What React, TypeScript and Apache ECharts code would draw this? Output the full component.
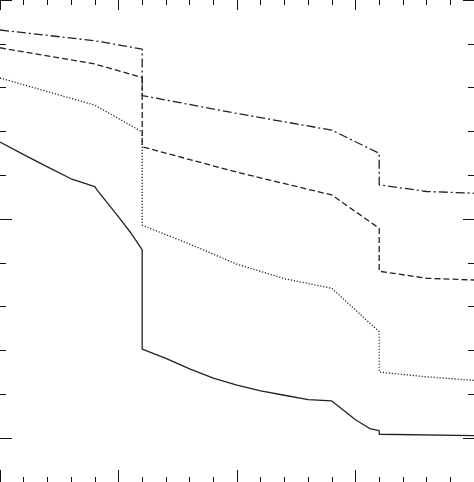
import React, { useEffect, useRef } from 'react';
import * as echarts from 'echarts';

// x in minor tick units (0..20), y in minor tick units from the top (0..11)
const solidLine: number[][] = [
  [0, 3.24], [1, 3.53], [2, 3.81], [3, 4.08], [4, 4.26], [4.1, 4.34], [5, 4.95], [5.5, 5.3], [6, 5.7],
  [6, 7.97], [7, 8.18], [8, 8.42], [9, 8.63], [10, 8.79], [11, 8.92], [12, 9.02], [13, 9.12], [14, 9.15],
  [15, 9.58], [15.6, 9.78], [16, 9.83], [16, 9.91], [20, 9.94],
];
const dottedLine: number[][] = [
  [0, 1.78], [4, 2.4], [6, 3.01], [6, 5.14], [8, 5.57], [10, 6.03], [12, 6.36], [14, 6.58],
  [16, 7.57], [16, 8.49], [18, 8.6], [20, 8.68],
];
const dashedLine: number[][] = [
  [0, 1.09], [4, 1.46], [6, 1.77], [6, 3.35], [10, 3.93], [14, 4.45],
  [16, 5.21], [16, 6.19], [18, 6.35], [20, 6.39],
];
const dashDotLine: number[][] = [
  [0, 0.685], [4, 0.93], [6, 1.12], [6, 2.18], [10, 2.59], [14, 2.97],
  [16, 3.5], [16, 4.22], [18, 4.37], [20, 4.41],
];
const yMajorTicks = [0, 5, 10];

const LINE = '#222';

const App: React.FC = () => {
  const chartRef = useRef<HTMLDivElement>(null);

  useEffect(() => {
    const chart = echarts.init(chartRef.current, null, { renderer: 'svg' });

    const xAxisFor = (position: string, major: number) => ({
      type: 'value',
      position,
      min: 0,
      max: 20,
      interval: 5,
      axisLine: { show: false, onZero: false },
      axisLabel: { show: false },
      splitLine: { show: false },
      axisTick: { show: true, inside: true, length: major, lineStyle: { color: '#111', width: 1 } },
      minorTick: { show: true, splitNumber: 5, length: 5, lineStyle: { color: '#111', width: 1 } },
    });

    const yAxisFor = (position: string, length: number, major: boolean) => ({
      type: 'value',
      position,
      inverse: true,
      min: 0,
      max: 11,
      interval: major ? 5 : 1,
      axisLine: { show: false, onZero: false },
      axisLabel: { show: false },
      splitLine: { show: false },
      axisTick: {
        show: true,
        inside: true,
        length,
        lineStyle: { color: '#111', width: 1 },
        ...(major ? { customValues: yMajorTicks } : {}),
      },
    });

    const lineSeries = (data: number[][], type: any) => ({
      type: 'line',
      data,
      xAxisIndex: 0,
      yAxisIndex: 0,
      symbol: 'none',
      lineStyle: { color: LINE, width: 1.3, type },
    });

    chart.setOption({
      animation: false,
      backgroundColor: '#fff',
      grid: { left: 0, right: 0, top: 0, bottom: 0, containLabel: false },
      xAxis: [xAxisFor('bottom', 12), xAxisFor('top', 10)],
      yAxis: [
        yAxisFor('left', 6, false),
        yAxisFor('left', 12, true),
        yAxisFor('right', 6, false),
        yAxisFor('right', 11, true),
      ],
      series: [
        lineSeries(solidLine, 'solid'),
        lineSeries(dottedLine, [1.2, 1.8]),
        lineSeries(dashedLine, [6, 3]),
        lineSeries(dashDotLine, [9, 3, 2, 3]),
      ],
    });

    return () => {
      chart.dispose();
    };
  }, []);

  return (
    <div
      ref={chartRef}
      style={{ position: 'absolute', left: 0, top: 0, width: 474, height: 482 }}
    />
  );
};

export default App;
